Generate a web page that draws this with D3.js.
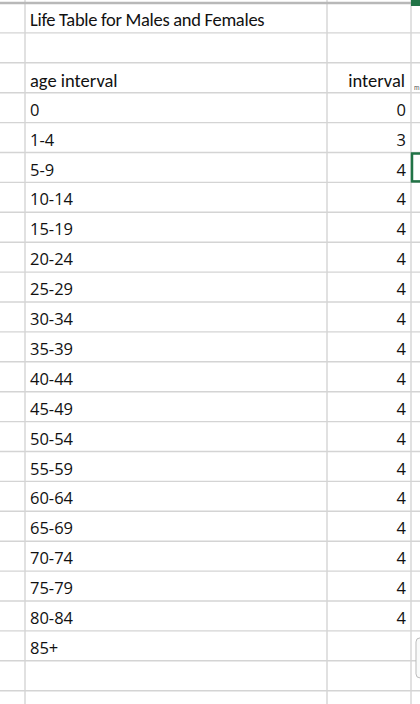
<!DOCTYPE html>
<html><head><meta charset="utf-8">
<script src="https://cdn.jsdelivr.net/npm/d3@7"></script>
<style>body{margin:0;background:#fff}</style>
</head><body>
<script>
const title = 'Life Table for Males and Females'
const colHeaders = ['age interval', 'interval']
const ages = ['0','1-4','5-9','10-14','15-19','20-24','25-29','30-34','35-39','40-44','45-49','50-54','55-59','60-64','65-69','70-74','75-79','80-84','85+']
const widths = [0,3,4,4,4,4,4,4,4,4,4,4,4,4,4,4,4,4,null]

const W = 420, H = 704
const svg = d3.select('body').append('svg').attr('width', W).attr('height', H)
const font = 'Calibri, Carlito, Lato, "Liberation Sans", sans-serif'
const numFont = '"Open Sans", sans-serif'

// rows: title, blank, header, data..., blanks
const rows = ['title','blank','head'].concat(ages.map((d,i) => 'r' + i), ['e1','e2'])
const y = d3.scaleBand().domain(rows).range([3, 3 + rows.length * 29.9])
const xs = [25, 327, 411]

const grid = svg.append('g').attr('stroke', '#d4d4d4').attr('stroke-width', 1.4)
rows.forEach(r => grid.append('line').attr('x1', 0).attr('x2', W)
    .attr('y1', y(r) + y.bandwidth()).attr('y2', y(r) + y.bandwidth()))
xs.forEach(x => grid.append('line').attr('x1', x).attr('x2', x).attr('y1', 0).attr('y2', H))
svg.append('line').attr('x1', 0).attr('x2', W).attr('y1', 3).attr('y2', 3)
    .attr('stroke', '#b8b8b8').attr('stroke-width', 2.5)

svg.append('text').attr('x', 30).attr('y', y('title') + 23)
    .attr('font-family', font).attr('font-size', 18.5).attr('letter-spacing', -0.3).attr('fill', '#111').text(title)
svg.append('text').attr('x', 30).attr('y', y('head') + 24)
    .attr('font-family', font).attr('font-size', 18.5).attr('fill', '#111').text(colHeaders[0])
svg.append('text').attr('x', 405).attr('y', y('head') + 24).attr('text-anchor', 'end')
    .attr('font-family', font).attr('font-size', 18.5).attr('fill', '#111').text(colHeaders[1])
svg.append('text').attr('x', 414).attr('y', y('head') + 27)
    .attr('font-family', font).attr('font-size', 7).attr('fill', '#555').text('m')

ages.forEach((a,i) => {
    const yy = y('r' + i) + 23
    svg.append('text').attr('x', 30).attr('y', yy)
        .attr('font-family', numFont).attr('font-size', 16.5).attr('fill', '#111').text(a)
    if (widths[i] != null)
        svg.append('text').attr('x', 406).attr('y', yy).attr('text-anchor', 'end')
            .attr('font-family', numFont).attr('font-size', 16.5).attr('fill', '#111').text(widths[i])
})

// selected cell
svg.append('rect').attr('x', 412).attr('y', y('r2') + 1).attr('width', 12).attr('height', y.bandwidth() - 2)
    .attr('fill', 'none').attr('stroke', '#217346').attr('stroke-width', 2.5)
svg.append('rect').attr('x', 411).attr('y', 0).attr('width', 9).attr('height', 6).attr('fill', '#217346')
svg.append('rect').attr('x', 416).attr('y', y('r18') + 7).attr('width', 10).attr('height', 40).attr('rx', 4)
    .attr('fill', '#fafafa').attr('stroke', '#bbb')
</script>
</body></html>
